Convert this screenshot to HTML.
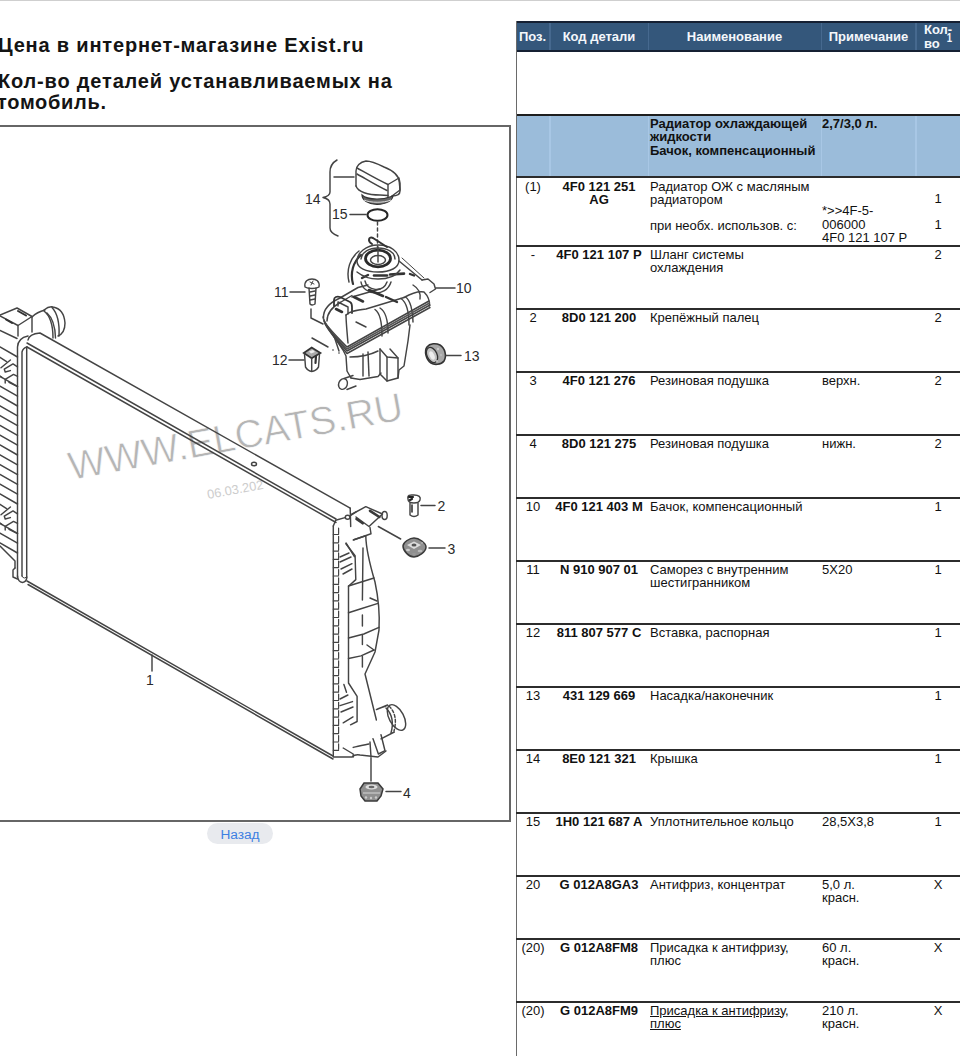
<!DOCTYPE html>
<html><head><meta charset="utf-8">
<style>
html,body{margin:0;padding:0;background:#fff;}
body{width:960px;height:1056px;overflow:hidden;position:relative;font-family:"Liberation Sans",sans-serif;color:#111;}
.a{position:absolute;white-space:nowrap;}
.topline{position:absolute;left:0;top:0;width:960px;height:1px;background:#cfcfcf;}
.h{position:absolute;left:-2px;font-weight:bold;font-size:20px;letter-spacing:0.82px;line-height:21px;color:#141414;white-space:nowrap;}
.frame{position:absolute;left:-3px;top:125px;width:512px;height:693px;border:2px solid #666;border-left:none;}
.btn{position:absolute;left:207px;top:823px;width:66px;height:21px;border-radius:11px;background:#e8eaee;color:#3d80e2;font-size:13.7px;line-height:23px;text-align:center;}
/* table */
.t{position:absolute;left:0;top:0;}
.vl{position:absolute;}
.hl{position:absolute;left:516px;width:444px;height:2px;margin-top:-0.25px;background:#2c2c2c;}
.hd{position:absolute;top:23px;height:27px;background:#34577b;}
.ht{position:absolute;color:#f4f7fb;font-weight:bold;font-size:13px;line-height:13px;white-space:nowrap;}
.c{position:absolute;font-size:13px;line-height:13.5px;color:#111;white-space:nowrap;margin-top:0.6px;}
.b{font-weight:bold;}
.pos{left:517px;width:32px;text-align:center;}
.code{left:550px;width:98px;text-align:center;font-weight:bold;}
.name{left:650px;}
.note{left:822px;}
.qty{left:916px;width:44px;text-align:center;}
</style></head><body>
<div class="topline"></div>
<div class="h" style="top:35px">Цена в интернет-магазине Exist.ru</div>
<div class="h" style="top:70.5px">Кол-во деталей устанавливаемых на</div>
<div class="h" style="top:92px;left:-3px;letter-spacing:0.7px">томобиль.</div>

<div class="frame"></div>
<div class="btn">Назад</div>

<!-- table -->
<div style="position:absolute;left:516px;top:21px;width:444px;height:2px;background:#152033"></div>
<div class="hd" style="left:517px;width:443px"></div>
<div style="position:absolute;left:516px;top:50px;width:444px;height:2px;background:#152033"></div>
<div style="position:absolute;left:549px;top:23px;width:1.5px;height:27px;background:#46698f"></div>
<div style="position:absolute;left:647.5px;top:23px;width:1.5px;height:27px;background:#46698f"></div>
<div style="position:absolute;left:820.5px;top:23px;width:1.5px;height:27px;background:#46698f"></div>
<div style="position:absolute;left:915px;top:23px;width:1.5px;height:27px;background:#46698f"></div>
<div class="ht" style="left:519px;top:30px">Поз.</div>
<div class="ht" style="left:550px;width:98px;text-align:center;top:30px">Код детали</div>
<div class="ht" style="left:648px;width:173px;text-align:center;top:30px">Наименование</div>
<div class="ht" style="left:821px;width:95px;text-align:center;top:30px">Примечание</div>
<div class="ht" style="left:924px;top:23px">Кол-</div>
<div class="ht" style="left:924px;top:37px">во</div>
<div class="ht" style="left:945.5px;top:32px;font-size:12px;transform:scaleX(0.8)">1</div>

<!-- left border of table -->
<div style="position:absolute;left:515.5px;top:21px;width:1.6px;height:1035px;background:#6a6a6a"></div>

<!-- blue row -->
<div style="position:absolute;left:517px;top:113.8px;width:443px;height:2px;background:#1e1e1e"></div>
<div style="position:absolute;left:517px;top:115.5px;width:443px;height:61px;background:#9bbcda"></div>
<div style="position:absolute;left:549px;top:115.5px;width:1.5px;height:61px;background:#a8c7e5"></div>
<div style="position:absolute;left:647.5px;top:115.5px;width:1.5px;height:61px;background:#a8c7e5"></div>
<div style="position:absolute;left:820.5px;top:115.5px;width:1.5px;height:61px;background:#a8c7e5"></div>
<div style="position:absolute;left:915px;top:115.5px;width:1.5px;height:61px;background:#a8c7e5"></div>
<div class="c b name" style="top:116px;color:#111">Радиатор охлаждающей<br>жидкости<br>Бачок, компенсационный</div>
<div class="c b note" style="top:116px;color:#111">2,7/3,0 л.</div>

<!-- row borders -->
<div class="hl" style="top:176.5px"></div>
<div class="hl" style="top:245.5px"></div>
<div class="hl" style="top:308.5px"></div>
<div class="hl" style="top:371.5px"></div>
<div class="hl" style="top:434.5px"></div>
<div class="hl" style="top:497.5px"></div>
<div class="hl" style="top:560.5px"></div>
<div class="hl" style="top:623.5px"></div>
<div class="hl" style="top:686.5px"></div>
<div class="hl" style="top:749.5px"></div>
<div class="hl" style="top:812.5px"></div>
<div class="hl" style="top:875.5px"></div>
<div class="hl" style="top:938.5px"></div>
<div class="hl" style="top:1001px"></div>

<!-- row (1) -->
<div class="c pos" style="top:179px">(1)</div>
<div class="c code" style="top:179px">4F0 121 251<br>AG</div>
<div class="c name" style="top:179px">Радиатор ОЖ с масляным<br>радиатором</div>
<div class="c qty" style="top:191px">1</div>
<div class="c note" style="top:203.7px">*&gt;&gt;4F-5-<br>006000<br>4F0 121 107 P</div>
<div class="c name" style="top:218px">при необх. использов. с:</div>
<div class="c qty" style="top:217px">1</div>

<!-- row - -->
<div class="c pos" style="top:247px">-</div>
<div class="c code" style="top:247px">4F0 121 107 P</div>
<div class="c name" style="top:247px">Шланг системы<br>охлаждения</div>
<div class="c qty" style="top:247px">2</div>

<div class="c pos" style="top:310px">2</div>
<div class="c code" style="top:310px">8D0 121 200</div>
<div class="c name" style="top:310px">Крепёжный палец</div>
<div class="c qty" style="top:310px">2</div>

<div class="c pos" style="top:373px">3</div>
<div class="c code" style="top:373px">4F0 121 276</div>
<div class="c name" style="top:373px">Резиновая подушка</div>
<div class="c note" style="top:373px">верхн.</div>
<div class="c qty" style="top:373px">2</div>

<div class="c pos" style="top:436px">4</div>
<div class="c code" style="top:436px">8D0 121 275</div>
<div class="c name" style="top:436px">Резиновая подушка</div>
<div class="c note" style="top:436px">нижн.</div>
<div class="c qty" style="top:436px">2</div>

<div class="c pos" style="top:499px">10</div>
<div class="c code" style="top:499px">4F0 121 403 M</div>
<div class="c name" style="top:499px">Бачок, компенсационный</div>
<div class="c qty" style="top:499px">1</div>

<div class="c pos" style="top:562px">11</div>
<div class="c code" style="top:562px">N 910 907 01</div>
<div class="c name" style="top:562px">Саморез с внутренним<br>шестигранником</div>
<div class="c note" style="top:562px">5X20</div>
<div class="c qty" style="top:562px">1</div>

<div class="c pos" style="top:625px">12</div>
<div class="c code" style="top:625px">811 807 577 C</div>
<div class="c name" style="top:625px">Вставка, распорная</div>
<div class="c qty" style="top:625px">1</div>

<div class="c pos" style="top:688px">13</div>
<div class="c code" style="top:688px">431 129 669</div>
<div class="c name" style="top:688px">Насадка/наконечник</div>
<div class="c qty" style="top:688px">1</div>

<div class="c pos" style="top:751px">14</div>
<div class="c code" style="top:751px">8E0 121 321</div>
<div class="c name" style="top:751px">Крышка</div>
<div class="c qty" style="top:751px">1</div>

<div class="c pos" style="top:814px">15</div>
<div class="c code" style="top:814px">1H0 121 687 A</div>
<div class="c name" style="top:814px">Уплотнительное кольцо</div>
<div class="c note" style="top:814px">28,5X3,8</div>
<div class="c qty" style="top:814px">1</div>

<div class="c pos" style="top:877px">20</div>
<div class="c code" style="top:877px">G 012A8GA3</div>
<div class="c name" style="top:877px">Антифриз, концентрат</div>
<div class="c note" style="top:877px">5,0 л.<br>красн.</div>
<div class="c qty" style="top:877px">X</div>

<div class="c pos" style="top:940px">(20)</div>
<div class="c code" style="top:940px">G 012A8FM8</div>
<div class="c name" style="top:940px">Присадка к антифризу,<br>плюс</div>
<div class="c note" style="top:940px">60 л.<br>красн.</div>
<div class="c qty" style="top:940px">X</div>

<div class="c pos" style="top:1003px">(20)</div>
<div class="c code" style="top:1003px">G 012A8FM9</div>
<div class="c name" style="top:1003px;text-decoration:underline">Присадка к антифризу,<br>плюс</div>
<div class="c note" style="top:1003px">210 л.<br>красн.</div>
<div class="c qty" style="top:1003px">X</div>

<!-- DIAGRAM -->
<svg style="position:absolute;left:0;top:0" width="510" height="820" viewBox="0 0 510 820">
<defs>
<style>
.s{fill:none;stroke:#444;stroke-width:1.45;stroke-linecap:round;stroke-linejoin:round}
.st{fill:none;stroke:#333;stroke-width:2;stroke-linecap:round;stroke-linejoin:round}
.lb{font-family:"Liberation Sans",sans-serif;font-size:14px;fill:#2a2a2a}
</style>
</defs>
<!-- watermark -->
<text x="71" y="480" transform="rotate(-10.3 71 480)" style="font-family:'Liberation Sans',sans-serif;font-size:39.5px;fill:#b5b5b5;stroke:#fff;stroke-width:0.6">WWW.ELCATS.RU</text>
<text x="208" y="499" transform="rotate(-10.4 208 499)" style="font-family:'Liberation Sans',sans-serif;font-size:12.8px;fill:#cdcdcd">06.03.202</text>

<!-- ===== radiator core frame ===== -->
<!-- top bar outer -->
<path class="s" d="M28,340 Q29,334 40,333 L350.2,508.2"/>
<!-- top bar inner double -->
<path class="s" d="M27,343 L336,519"/>
<path class="s" d="M27,347 L336,522.5"/>
<!-- left vertical lines -->
<path class="s" d="M17.5,577 L17.5,347 Q18,338 28,336"/>
<path class="s" d="M22,576 L22,352 Q23,348 27,347"/>
<path class="s" d="M22,576 Q22.5,578 24.5,578 L26.7,577" style="stroke-width:1"/>
<path class="s" d="M26.7,578 L26.7,347"/>
<!-- bottom double line -->
<path class="s" d="M27,581 L333,756"/>
<path class="s" d="M28,584.5 L333,759"/>
<!-- bottom left tab -->
<path class="s" d="M15,568 L13,570 L13,577 L17.5,579"/>
<path class="s" d="M17.5,576 Q18,582 22.5,582.5 Q26.7,582 26.7,577"/>

<!-- left fins -->
<g class="s">
<path d="M0,347.0 L17.5,357.0"/>
<path d="M0,376.4 L17.5,386.4"/>
<path d="M0,386.2 L17.5,396.2"/>
<path d="M0,396.0 L17.5,406.0"/>
<path d="M0,405.8 L17.5,415.8"/>
<path d="M0,415.6 L17.5,425.6"/>
<path d="M0,425.4 L17.5,435.4"/>
<path d="M0,435.2 L17.5,445.2"/>
<path d="M0,445.0 L17.5,455.0"/>
<path d="M0,454.8 L17.5,464.8"/>
<path d="M0,464.6 L17.5,474.6"/>
<path d="M0,474.4 L17.5,484.4"/>
<path d="M0,484.2 L17.5,494.2"/>
<path d="M0,494.0 L17.5,504.0"/>
<path d="M0,523.4 L17.5,533.4"/>
<path d="M0,533.2 L17.5,543.2"/>
<path d="M0,543.0 L17.5,553.0"/>
</g>
<path class="s" d="M0,357.3 L6.6,361.6"/>
<path class="s" d="M1,367.7 L10.4,360.0"/>
<path class="s" d="M17.5,366.8 L13,363.9 L4.3,369.2 L5.2,372.0 L10.4,370.6"/>
<path class="s" d="M17.5,376.4 L13.5,374.4 L5.2,379.4 L5.2,383.0"/>
<path class="s" d="M0,376.0 L2,377.5"/>
<path class="s" d="M9,382.4 L17.5,386.6"/>
<path class="s" d="M0,504.3 L6.6,508.6"/>
<path class="s" d="M1,514.7 L10.4,507.0"/>
<path class="s" d="M17.5,513.8 L13,510.9 L4.3,516.2 L5.2,519.0 L10.4,517.6"/>
<path class="s" d="M17.5,523.4 L13.5,521.4 L5.2,526.4 L5.2,530.0"/>
<path class="s" d="M0,523.0 L2,524.5"/>
<path class="s" d="M9,529.4 L17.5,533.6"/>
<path class="s" d="M0,546 L15,561 L15,568"/>
<!-- top-left connector box -->
<path class="s" d="M0,315 L17,308 L32,316.5 L18,325.5 L0,316"/>
<path class="s" d="M18,325.5 L18,336"/>
<path class="s" d="M32,316.5 L32,332"/>
<path class="s" d="M0,330.5 L17,338.5"/>
<path class="st" d="M18,311 L26,315.5"/>
<path class="st" d="M6,319.5 L12,323"/>
<!-- pipe stub -->
<path class="s" d="M32,317 Q37,312 45,310"/>
<path class="s" d="M44,310 Q49,306 53,307 Q64,309 65,323 Q65,333 58,336"/>
<path class="s" d="M44,311 Q53,318 53,338"/>
<path class="s" d="M47,313 Q55,320 55.5,338"/>
<path class="s" d="M52,307.5 Q60,316 59,336"/>

<!-- center hole on top bar -->
<ellipse class="s" cx="254" cy="464" rx="2.5" ry="1.8"/>

<!-- label 1 -->
<path class="s" d="M152,655 L152,671"/>
<text class="lb" x="146" y="685">1</text>

<!-- ===== right tank ===== -->
<path class="s" d="M333.3,526 L333.3,757 L352,757 Q355,754 360,755 L378,757 L386,751"/>
<path class="s" d="M335.6,520.5 L333.3,526"/>
<path class="s" d="M338.6,528.0 L338.6,533.5 M333.3,534.5 L338.6,534.5 M338.6,536.3 L338.6,541.8 M333.3,542.8 L338.6,542.8 M338.6,544.6 L338.6,550.1 M333.3,551.1 L338.6,551.1 M338.6,552.9 L338.6,558.4 M333.3,559.4 L338.6,559.4 M338.6,561.2 L338.6,566.7 M333.3,567.7 L338.6,567.7 M338.6,569.5 L338.6,575.0 M333.3,576.0 L338.6,576.0 M338.6,577.8 L338.6,583.3 M333.3,584.3 L338.6,584.3 M338.6,586.1 L338.6,591.6 M333.3,592.6 L338.6,592.6 M338.6,594.4 L338.6,599.9 M333.3,600.9 L338.6,600.9 M338.6,602.7 L338.6,608.2 M333.3,609.2 L338.6,609.2 M338.6,611.0 L338.6,616.5 M333.3,617.5 L338.6,617.5 M338.6,619.3 L338.6,624.8 M333.3,625.8 L338.6,625.8 M338.6,627.6 L338.6,633.1 M333.3,634.1 L338.6,634.1 M338.6,635.9 L338.6,641.4 M333.3,642.4 L338.6,642.4 M338.6,644.2 L338.6,649.7 M333.3,650.7 L338.6,650.7 M338.6,652.5 L338.6,658.0 M333.3,659.0 L338.6,659.0 M338.6,660.8 L338.6,666.3 M333.3,667.3 L338.6,667.3 M338.6,669.1 L338.6,674.6 M333.3,675.6 L338.6,675.6 M338.6,677.4 L338.6,682.9 M333.3,683.9 L338.6,683.9 M338.6,685.7 L338.6,691.2 M333.3,692.2 L338.6,692.2 M338.6,694.0 L338.6,699.5 M333.3,700.5 L338.6,700.5 M338.6,702.3 L338.6,707.8 M333.3,708.8 L338.6,708.8 M338.6,710.6 L338.6,716.1 M333.3,717.1 L338.6,717.1 M338.6,718.9 L338.6,724.4 M333.3,725.4 L338.6,725.4 M338.6,727.2 L338.6,732.7 M333.3,733.7 L338.6,733.7 M338.6,735.5 L338.6,741.0 M333.3,742.0 L338.6,742.0 M338.6,743.8 L338.6,749.3 M333.3,750.3 L338.6,750.3" style="stroke-width:1.2"/>
<!-- tank contours -->
<path class="s" d="M365.8,536 C366,550 370,565 375,582 C378,596 380,612 379,630 L375,652 L365,674 L376.4,720"/>
<path class="s" d="M353.8,539.8 L365.8,535.8"/>
<path class="s" d="M363,548 L362.4,600"/>
<path class="s" d="M345.9,543.8 L355.1,555.7 L355.8,579.6 L348.5,586.2 L348.5,683 L357.1,696.3 L357.1,721.5 L350.5,724.8"/>
<path class="s" d="M348.5,586 L374,578"/>
<path class="s" d="M348.5,612.7 L361,608.8 L378,603.4"/>
<path class="s" d="M348.5,638 L363.8,634 L379,627.3"/>
<path class="s" d="M348.5,658.5 L361,655.9 L374,650"/>
<path class="s" d="M362.4,615 L362.4,626 M362.4,635.3 L362.4,644.6 M362.4,656.5 L362.4,667"/>
<path class="s" d="M370,598 L377,601 M367,645 L374,650"/>
<!-- fins on right tank -->
<path class="s" d="M340,557 L349,553 M340,562 L351,557 M341,569 L352,563.7 M343,574 L352,569"/>
<path class="s" d="M340,699 L347.9,695 M340,705.6 L352.5,701.6 M341,712 L353,707 M343.2,722.8 L353,716.9 M343.9,684.4 L346.5,692.3"/>
<!-- pipe -->
<path class="s" d="M376.4,709.6 C379,708 384,707 387.6,705"/>
<path class="s" d="M381,738.8 L394.3,732"/>
<ellipse class="s" cx="396.5" cy="717.5" rx="7.3" ry="14" transform="rotate(-28 396.5 717.5)"/>
<path class="s" d="M386,708 C392,714 394,722 391,733"/>
<path class="s" d="M389,706 C395,712 397,720 394,731" stroke-dasharray="3,2"/>
<!-- bottom -->
<path class="s" d="M343.2,748 L353.2,754 L353.2,757"/>
<path class="s" d="M353.2,747.4 C358,746 364,745 369,744"/>
<path class="s" d="M373,738.8 L378.4,754 L385,750.7 L381,734.8"/>
<path class="s" d="M370,742 L371,757"/>
<!-- top corner / bracket -->
<path class="s" d="M335.6,520.2 L345,517.6"/>
<ellipse class="s" cx="347.6" cy="517.2" rx="2.3" ry="2"/>
<path class="s" d="M350,516 L356,511.9"/>
<path class="s" d="M351.2,514.5 L365.8,506.7 L382.5,514 L369,526.5 L356,517"/>
<ellipse class="s" cx="384.6" cy="515.5" rx="2.6" ry="4"/>
<path class="st" d="M370,510.8 L379.4,517" style="stroke-width:2.6;stroke:#3a3a3a"/>
<path class="st" d="M356.5,519 L362.7,523.3" style="stroke-width:2.6;stroke:#3a3a3a"/>
<path class="s" d="M370,527.5 L371,533.75 L353.3,540"/>
<path class="s" d="M378.3,526.5 L400.7,539"/>
<path class="s" d="M346,543 L354.4,556.7"/>
<path class="s" d="M350.2,508.2 L350.7,526.5"/>

<!-- part 2 bolt -->
<path class="s" d="M408,499 C407,494 411,495 414,495 C419,495 421,497 420,500 C419,503 416,503 414,503 C410,503 408,502 408,499 Z"/>
<path class="st" d="M409,497 L413,497 M410,500 L412,499" style="stroke:#222;stroke-width:2.2"/>
<path class="s" d="M410,503 L410,515 Q414,518 418,515 L418,503"/>
<path class="st" d="M412,505 L412,512" style="stroke-width:1.6"/>
<path class="s" d="M421,505.5 L435,505.5"/>
<text class="lb" x="437.5" y="511">2</text>
<!-- part 3 nut -->
<path d="M403,546 C403,542 410,538 414,538 C419,538 426,543 426,547 C426,552 418,557 414,557 C409,557 403,551 403,546 Z" fill="#909090" stroke="#3a3a3a" stroke-width="1.5"/>
<path d="M407,545 L414,541.5 L421,545 L414,549 Z" fill="#ddd"/>
<ellipse cx="414" cy="545" rx="2.5" ry="1.6" fill="#555"/>
<ellipse cx="408" cy="550" rx="2" ry="1.3" fill="#ccc"/>
<ellipse cx="420" cy="551" rx="2.3" ry="1.3" fill="#bbb"/>
<ellipse cx="414" cy="554" rx="2" ry="1" fill="#999"/>
<ellipse cx="422" cy="543" rx="1.2" ry="1" fill="#aaa"/>
<path class="s" d="M429,548 L445,548"/>
<text class="lb" x="447.5" y="553.5">3</text>
<!-- part 4 -->
<path class="s" d="M371,758 L371,781"/>
<path d="M360,789 L364,783 L378,783 L383,789 L381,796 L377,801 L365,801 L361,796 Z" fill="#909090" stroke="#3a3a3a" stroke-width="1.5"/>
<ellipse cx="371.5" cy="787" rx="6" ry="2.6" fill="#ddd"/>
<ellipse cx="371.5" cy="787" rx="3" ry="1.3" fill="#666"/>
<path d="M363,793 L380,793" stroke="#ccc" stroke-width="1.2"/>
<circle cx="366" cy="797.5" r="1.2" fill="#ccc"/>
<circle cx="371" cy="798" r="1.2" fill="#ccc"/>
<circle cx="376" cy="797.5" r="1.2" fill="#ccc"/>
<path class="s" d="M386,791.5 L401,791.5"/>
<text class="lb" x="403" y="797.5">4</text>

<!-- ===== parts 10-15 ===== -->
<!-- bracket 14 -->
<path class="s" d="M337,160 Q330,164 330,172 L330,192 Q330,196 323,197.5 Q330,199 330,204 L330,228 Q330,233 338,236"/>
<text class="lb" x="305" y="204">14</text>
<path class="s" d="M334,177 L354,177"/>
<!-- cap -->
<path class="s" d="M356,186 L356,171 C356,166 360,162 366,161 C372,161 378,164 384,167 C392,170 399,175 400,183 L400,191 C400,194 397,196 392,196"/>
<path class="s" d="M356,186 C358,192 368,195 380,195 L388,195.5"/>
<path class="s" d="M357,168 C366,173 378,180 388,184.5 L399,178"/>
<path class="s" d="M357,174 C366,179 377,186 387,190.5"/>
<path class="s" d="M388,184.5 L388,197"/>
<path class="s" d="M399,179 L400,190 L392,196"/>
<path d="M362,195 C362,200 368,204 377,204.5 C386,204 392,201 393,196 C388,198 382,199 377,199 C370,199 365,198 362,195 Z" fill="#666" stroke="#333" stroke-width="1.2"/>
<path d="M364,200 C370,203 384,203 391,200" stroke="#ddd" stroke-width="1" fill="none"/>
<!-- ring 15 -->
<text class="lb" x="332" y="219">15</text>
<path class="s" d="M350,214.5 L366,214.5"/>
<ellipse cx="377.5" cy="215" rx="10" ry="5.8" fill="none" stroke="#262626" stroke-width="2"/>
<path class="s" stroke-dasharray="3,3" d="M377.5,222 L377.5,252"/>

<!-- tank 10 -->
<!-- dome -->
<path class="s" d="M349,282 C346,270 350,258 359,251"/>
<path class="st" d="M353,284 C350,273 353,262 361,255" style="stroke-width:2.2"/>
<path class="s" d="M357,261 C357,253 366,245 378,245 C391,245 399,252 399,260 C399,268 390,272 378,272 C366,272 357,268 357,261 Z"/>
<path class="s" d="M361,259 C362,252 369,248 378,248 C387,248 395,252 395,259"/>
<ellipse cx="378" cy="258.5" rx="12.5" ry="8.3" fill="none" stroke="#2a2a2a" stroke-width="2.8"/>
<ellipse class="s" cx="378" cy="260" rx="7.5" ry="4.5"/>
<path class="s" d="M378,247 L378,262"/>
<path class="st" d="M372,244 C367,241 369,236 373,238 L387,247"/>
<path class="s" d="M399,261 L422,280"/>
<path class="s" d="M402,258 L424,278" style="stroke-width:1"/>
<path class="st" d="M374,275.5 L387,275.5" style="stroke-width:2.6"/>
<path class="st" d="M390,274.5 L404,273.6" style="stroke-width:2.6"/>
<path class="st" d="M410,274 L414,275.5" style="stroke-width:2.4"/>
<path class="st" d="M362,278 L368,275" style="stroke-width:2.4"/>
<path class="s" d="M361,282 C363,295 386,298 391,282"/>
<path class="s" d="M365,281 C367,291 383,293 387,282"/>
<path class="s" d="M357,272 C362,276 368,279 378,279 C388,279 396,276 400,270"/>
<!-- tab for 10 -->
<path class="s" d="M422,280 L428,279 L434,284 L435.5,289 L430,292.5"/>
<path class="s" d="M436,288 L455,288"/>
<text class="lb" x="456" y="293">10</text>
<!-- upper box -->
<path class="s" d="M323.5,318 C323,310 329,303 340,298 L358,287.5 L368,285"/>
<path class="s" d="M327,321 C327,314 332,307 341,302 L352,295.5"/>
<path class="st" d="M334,306 L334,300 C334,297 337,296 340,297 L350,302 C352,303 352,305 352,307 L352,313" style="stroke-width:1.8"/>
<path class="s" d="M338,306 L338,302 L348,307 L348,314"/>
<path class="st" d="M336,309 L342,312" style="stroke-width:2.6"/>
<path class="s" d="M346,315 C346,320 347,332 348,343"/>
<path class="s" d="M346,315 C350,311 356,310 366,309 L404,297.5"/>
<path class="s" d="M352,297 L380,289"/>
<path class="st" d="M354,297 L363,301.5" style="stroke-width:2.6"/>
<path class="st" d="M369,290 L383,296" style="stroke-width:2.6"/>
<path class="st" d="M386,297 L397,302" style="stroke-width:2.4"/>
<path class="s" d="M375,309.5 C380,313 382,322 382,336"/>
<path class="s" d="M380,308 C385,311 388,320 388,333"/>
<path class="s" d="M401,298.5 C406,302 409,312 409,325"/>
<path class="s" d="M405.5,297 C410,300 413,310 413,322"/>
<path class="s" d="M356,322 L366,327"/>
<path class="s" d="M404,297.5 C412,293 418,291 424,292 C428,296 430,300 429.5,306"/>
<path class="s" d="M413,285 C418,288 421,292 420,299"/>
<!-- seam band -->
<path class="s" d="M323,317 C324,323 331,331 347,347 L429,301"/>
<path class="s" d="M323.5,319 C325,325 332,333 347,349 L429.5,303" style="stroke:#555"/>
<path class="s" d="M324,321 C326,327 333,335 347,351 L430,305" style="stroke:#444"/>
<path class="s" d="M325,323.5 C327,329 334,337 347,353.5 L430,307.5"/>
<!-- lower body -->
<path class="s" d="M327,326 L343,350 L346,356 L347,371 L351,378"/>
<path class="s" d="M334,336 L339,351"/>
<ellipse class="s" cx="343" cy="384" rx="4.3" ry="5.5" transform="rotate(20 343 384)"/>
<path class="s" d="M344,378.5 L353,375.5"/>
<path class="s" d="M347,389.5 L356,386"/>
<path class="s" d="M351,378 L360,379.5 L378,376.5 L381,373"/>
<path class="s" d="M410,325 L408,341 L404,366 L399,370 L398,378"/>
<path class="s" d="M380,349 L380,374 L387,381 L398,378 L398,358 L390,349"/>
<path class="s" d="M387,357 L387,381"/>
<path class="s" d="M380,349 L387,357 L398,358"/>
<path class="s" d="M363,354 L363,376"/>
<path class="s" d="M368,352 L369,376"/>
<path class="s" d="M350,357 C358,357 370,355 378,351"/>

<!-- part 11 screw -->
<path class="s" d="M305,287 C304,281 308,279 312,279 C316,279 320,281 319,287 C316,289 308,289 305,287 Z"/>
<path class="s" d="M310,282 L314,284 M313,281 L311,285" style="stroke-width:1"/>
<path class="s" d="M309,288 L310,304 Q312,306 315,304 L316,288"/>
<path class="s" d="M310,292 L315,291 M310,296 L315,295 M310,300 L315,299"/>
<path class="s" d="M290,292 L305,292"/>
<text class="lb" x="274" y="297">11</text>
<path class="s" d="M311,309 L311,318 L323,324"/>
<!-- part 12 clip -->
<path d="M303.8,352.9 L311.7,347.5 L320.4,352.9 L311.7,358.3 Z" fill="#aaa" stroke="#333" stroke-width="1.8"/>
<path class="s" d="M304.5,354 L305.5,367 Q308,371 311.7,371.5 Q316,371 318.5,367 L319.5,354"/>
<path class="s" d="M311.7,358.3 L311.7,371"/>
<path class="st" d="M316,356 L315.5,363" style="stroke-width:2.2"/>
<path d="M309,351.5 L313,350 L315,352 L311,353.5 Z" fill="#eee"/>
<path class="s" d="M289,360 L304,360"/>
<text class="lb" x="272" y="365">12</text>
<path class="s" d="M312,338 L328,347"/>
<circle cx="333" cy="350" r="0.8" fill="#333"/>
<circle cx="339" cy="353" r="0.8" fill="#333"/>
<!-- part 13 ring -->
<path d="M427,347 C430,343 436,343 440,345 C445,348 447,356 444,361 C441,365 434,365 431,363 C426,360 424,351 427,347 Z" fill="#a8a8a8" stroke="#333" stroke-width="1.6"/>
<ellipse cx="432" cy="355" rx="5" ry="8" transform="rotate(-25 432 355)" fill="#c4c4c4" stroke="#333" stroke-width="1.3"/>
<ellipse cx="432" cy="355.5" rx="2.2" ry="4.5" transform="rotate(-25 432 355.5)" fill="#eee"/>
<circle cx="438" cy="349" r="1.2" fill="#ccc"/>
<circle cx="441" cy="355" r="1.2" fill="#bbb"/>
<circle cx="437" cy="361" r="1.1" fill="#ccc"/>
<path class="s" d="M446,355.5 L461,355.5"/>
<text class="lb" x="464" y="360.5">13</text>
</svg>

</body></html>
